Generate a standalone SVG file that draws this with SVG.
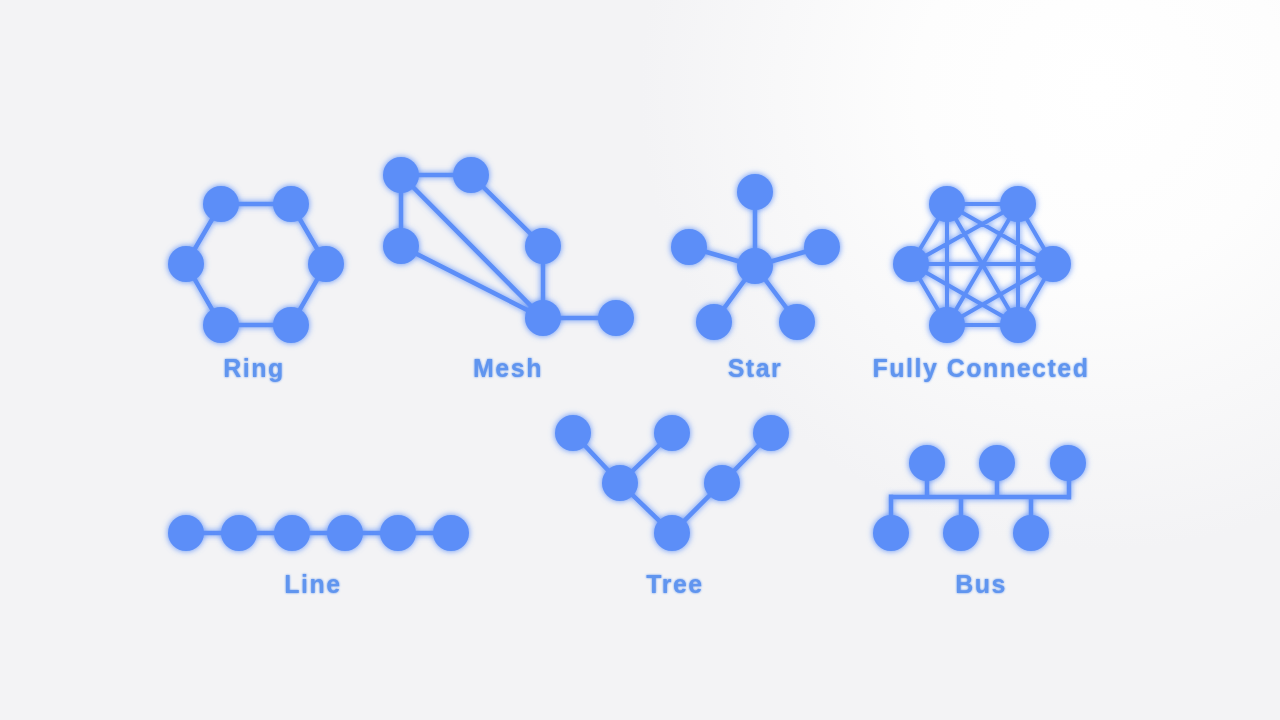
<svg xmlns="http://www.w3.org/2000/svg" width="1280" height="720" viewBox="0 0 1280 720">
<defs>
<radialGradient id="bg" cx="1100" cy="90" r="460" gradientUnits="userSpaceOnUse">
<stop offset="0" stop-color="#ffffff"/>
<stop offset="0.4" stop-color="#fdfdfd"/>
<stop offset="1" stop-color="#f3f3f5"/>
</radialGradient>
<filter id="glow" x="-20%" y="-20%" width="140%" height="140%">
<feGaussianBlur in="SourceGraphic" stdDeviation="3" result="b"/>
<feMerge><feMergeNode in="b"/><feMergeNode in="SourceGraphic"/></feMerge>
</filter>
<filter id="tglow" x="-10%" y="-30%" width="120%" height="160%">
<feGaussianBlur in="SourceGraphic" stdDeviation="1.2" result="b"/>
<feMerge><feMergeNode in="b"/><feMergeNode in="SourceGraphic"/></feMerge>
</filter>
</defs>
<style>
.e{stroke:#5b8ef8;stroke-width:4.5;fill:none;stroke-linecap:round}
.n{fill:#5b8ef8}
.t{font-family:"Liberation Sans",Arial,sans-serif;font-weight:bold;font-size:25px;letter-spacing:1.5px;fill:#6195ef;text-anchor:middle}
</style>
<rect width="1280" height="720" fill="#f4f4f6"/>
<rect width="1280" height="720" fill="url(#bg)"/>

<g id="connectors" filter="url(#glow)">
<path class="e" d="M221,204 L291,204 L326,264 L291,325 L221,325 L186,264 Z"/>
<path class="e" d="M401,175 L471,175 M401,175 L401,246 M401,175 L543,318 M471,175 L543,246 M543,246 L543,318 M401,246 L543,318 M543,318 L616,318"/>
<path class="e" d="M755,266 L755,192 M755,266 L689,247 M755,266 L822,247 M755,266 L714,322 M755,266 L797,322"/>
<path class="e" style="stroke-width:4" d="M947,204 L1018,204 M947,204 L911,264 M947,204 L1053,264 M947,204 L947,325 M947,204 L1018,325 M1018,204 L911,264 M1018,204 L1053,264 M1018,204 L947,325 M1018,204 L1018,325 M911,264 L1053,264 M911,264 L947,325 M911,264 L1018,325 M1053,264 L947,325 M1053,264 L1018,325 M947,325 L1018,325"/>
<path class="e" d="M186,533 L451,533"/>
<path class="e" d="M573,433 L620,483 L672,533 L722,483 L771,433 M672,433 L620,483"/>
<path class="e" style="stroke-linecap:butt" d="M889,497 L1071,497 M927,463 L927,497 M997,463 L997,497 M1069,463 L1069,499.5 M891,494.5 L891,533 M961,497 L961,533 M1031,497 L1031,533"/>
</g>

<g id="ring">
<g filter="url(#glow)">
<circle class="n" cx="221" cy="204" r="18"/><circle class="n" cx="291" cy="204" r="18"/>
<circle class="n" cx="186" cy="264" r="18"/><circle class="n" cx="326" cy="264" r="18"/>
<circle class="n" cx="221" cy="325" r="18"/><circle class="n" cx="291" cy="325" r="18"/>
</g>
<text class="t" x="254" y="377" filter="url(#tglow)">Ring</text>
</g>
<g id="mesh">
<g filter="url(#glow)">
<circle class="n" cx="401" cy="175" r="18"/><circle class="n" cx="471" cy="175" r="18"/>
<circle class="n" cx="401" cy="246" r="18"/><circle class="n" cx="543" cy="246" r="18"/>
<circle class="n" cx="543" cy="318" r="18"/><circle class="n" cx="616" cy="318" r="18"/>
</g>
<text class="t" x="508" y="377" filter="url(#tglow)">Mesh</text>
</g>
<g id="star">
<g filter="url(#glow)">
<circle class="n" cx="755" cy="192" r="18"/><circle class="n" cx="755" cy="266" r="18"/>
<circle class="n" cx="689" cy="247" r="18"/><circle class="n" cx="822" cy="247" r="18"/>
<circle class="n" cx="714" cy="322" r="18"/><circle class="n" cx="797" cy="322" r="18"/>
</g>
<text class="t" x="755" y="377" filter="url(#tglow)">Star</text>
</g>
<g id="fully-connected">
<g filter="url(#glow)">
<circle class="n" cx="947" cy="204" r="18"/><circle class="n" cx="1018" cy="204" r="18"/>
<circle class="n" cx="911" cy="264" r="18"/><circle class="n" cx="1053" cy="264" r="18"/>
<circle class="n" cx="947" cy="325" r="18"/><circle class="n" cx="1018" cy="325" r="18"/>
</g>
<text class="t" x="981" y="377" filter="url(#tglow)">Fully Connected</text>
</g>
<g id="line">
<g filter="url(#glow)">
<circle class="n" cx="186" cy="533" r="18"/><circle class="n" cx="239" cy="533" r="18"/>
<circle class="n" cx="292" cy="533" r="18"/><circle class="n" cx="345" cy="533" r="18"/>
<circle class="n" cx="398" cy="533" r="18"/><circle class="n" cx="451" cy="533" r="18"/>
</g>
<text class="t" x="313" y="593" filter="url(#tglow)">Line</text>
</g>
<g id="tree">
<g filter="url(#glow)">
<circle class="n" cx="573" cy="433" r="18"/><circle class="n" cx="672" cy="433" r="18"/>
<circle class="n" cx="771" cy="433" r="18"/><circle class="n" cx="620" cy="483" r="18"/>
<circle class="n" cx="722" cy="483" r="18"/><circle class="n" cx="672" cy="533" r="18"/>
</g>
<text class="t" x="675" y="593" filter="url(#tglow)">Tree</text>
</g>
<g id="bus">
<g filter="url(#glow)">
<circle class="n" cx="927" cy="463" r="18"/><circle class="n" cx="997" cy="463" r="18"/>
<circle class="n" cx="1068" cy="463" r="18"/><circle class="n" cx="891" cy="533" r="18"/>
<circle class="n" cx="961" cy="533" r="18"/><circle class="n" cx="1031" cy="533" r="18"/>
</g>
<text class="t" x="981" y="593" filter="url(#tglow)">Bus</text>
</g>
</svg>
